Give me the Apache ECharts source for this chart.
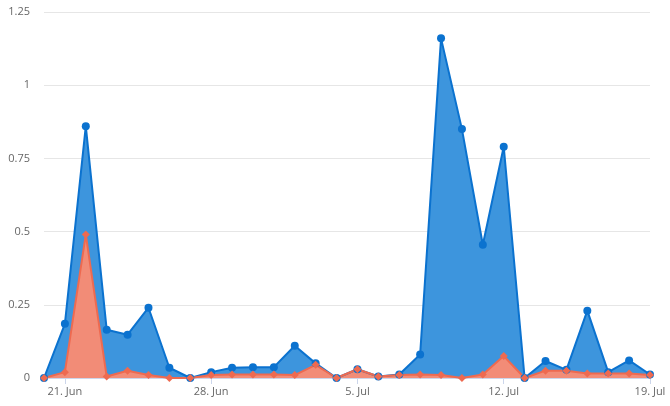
<!DOCTYPE html>
<html>
<head>
<meta charset="utf-8">
<script src="https://cdn.jsdelivr.net/npm/echarts@6/dist/echarts.min.js"></script>
<style>html,body{margin:0;padding:0;background:#fff}#chart{width:670px;height:406px}</style>
</head>
<body>
<div id="chart"></div>
<script>
// dates 20 Jun .. 19 Jul
var days = ['20. Jun','21. Jun','22. Jun','23. Jun','24. Jun','25. Jun','26. Jun','27. Jun','28. Jun','29. Jun','30. Jun',
	'1. Jul','2. Jul','3. Jul','4. Jul','5. Jul','6. Jul','7. Jul','8. Jul','9. Jul','10. Jul',
	'11. Jul','12. Jul','13. Jul','14. Jul','15. Jul','16. Jul','17. Jul','18. Jul','19. Jul'];
var blueVals = [0,0.185,0.86,0.165,0.148,0.24,0.035,0,0.02,0.035,0.037,0.037,0.11,0.05,0,0.03,0.005,0.012,0.08,1.16,0.85,0.455,0.79,0,0.058,0.028,0.23,0.02,0.06,0.012];
var redVals = [0,0.02,0.49,0.005,0.025,0.01,0,0,0.01,0.012,0.012,0.012,0.01,0.045,0,0.03,0.005,0.01,0.012,0.01,0,0.012,0.075,0,0.025,0.025,0.015,0.015,0.015,0.01];
var yTicks = ['0','0.25','0.5','0.75','1','1.25'];

var myChart = echarts.init(document.getElementById('chart'));
var option = {
	animation: false,
	grid: {left: 44, right: 20, top: 12, bottom: 28},
	xAxis: {
		type: 'category',
		boundaryGap: false,
		data: days,
		axisLine: {lineStyle: {color: '#ccd6eb'}},
		axisTick: {show: true, length: 6, lineStyle: {color: '#ccd6eb'},
			interval: function(i){ return (i - 1) % 7 === 0; }},
		axisLabel: {color: '#666', fontSize: 11, fontFamily: 'Open Sans',
			interval: function(i){ return (i - 1) % 7 === 0; }}
	},
	yAxis: {
		type: 'value', min: 0, max: 1.25, interval: 0.25,
		splitLine: {lineStyle: {color: '#e6e6e6'}},
		axisLabel: {color: '#666', fontSize: 11, fontFamily: 'Open Sans', margin: 14,
			formatter: function(v){ return yTicks[Math.round(v / 0.25)]; }}
	},
	series: [
		{
			type: 'line', data: blueVals,
			symbol: 'circle', symbolSize: 8,
			itemStyle: {color: '#0b72cf'},
			lineStyle: {color: '#0b72cf', width: 2},
			areaStyle: {color: '#3d95dd', opacity: 1}
		},
		{
			type: 'line', data: redVals,
			symbol: 'diamond', symbolSize: 8,
			itemStyle: {color: '#ee6a50'},
			lineStyle: {color: '#ee6a50', width: 2},
			areaStyle: {color: '#f28c77', opacity: 1}
		}
	]
};
myChart.setOption(option, true);
</script>
</body>
</html>
